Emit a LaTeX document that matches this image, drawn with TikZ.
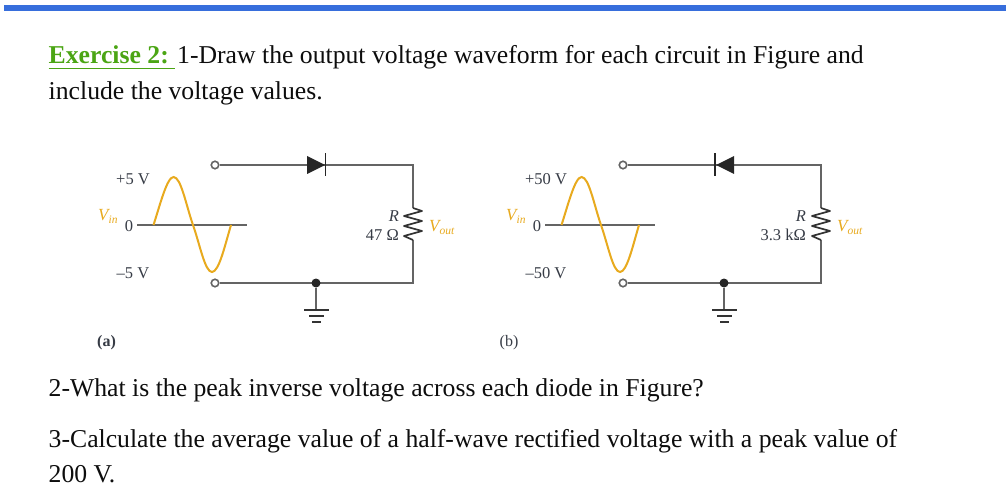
\documentclass[tikz,border=0pt]{standalone}
\usepackage{fontspec}
\setmainfont{Liberation Serif}
\definecolor{wire}{RGB}{100,100,100}
\definecolor{wave}{RGB}{232,170,30}
\definecolor{lab}{RGB}{55,60,70}
\definecolor{topbar}{RGB}{55,110,220}
\definecolor{exgreen}{RGB}{75,165,20}
\tikzset{
  wireline/.style={draw=wire,line width=1.7pt},
  term/.style={circle,draw=wire,fill=white,line width=1.6pt,inner sep=0pt,minimum size=7.5pt},
  junction/.style={circle,fill=black!85,inner sep=0pt,minimum size=9pt},
  waveline/.style={draw=wave,line width=2pt},
  bodytext/.style={anchor=base west,inner sep=0pt,font=\fontsize{25.7}{25.7}\selectfont,text=black!95},
  vlabel/.style={inner sep=0pt,text=lab,font=\fontsize{16.5}{17}\selectfont},
  ylabel/.style={inner sep=0pt,text=wave,font=\itshape\fontsize{17}{17}\selectfont},
  rline/.style={draw=black!80,line width=1.7pt,line join=round}
}
\newcommand{\vsubscr}[1]{V\raisebox{-2.5pt}{\fontsize{11.5}{11.5}\selectfont #1}}
\begin{document}
\begin{tikzpicture}[x=1pt,y=-1pt]
\useasboundingbox (0,0) rectangle (1006,486);
\fill[white] (0,0) rectangle (1006,486);
\fill[topbar] (4,5) rectangle (1006,11);
\node[bodytext,text=exgreen,font=\bfseries\fontsize{25.7}{25.7}\selectfont] (ex) at (48.5,64) {Exercise 2:};
\draw[exgreen,line width=1.7pt] (48.5,68.5) -- (175,68.5);
\node[bodytext] (l1) at (177,64) {1-Draw the output voltage waveform for each circuit in Figure and};
\node[bodytext] (l2) at (48.5,99.5) {include the voltage values.};
\node[bodytext] (l3) at (48.5,396) {2-What is the peak inverse voltage across each diode in Figure?};
\node[bodytext] (l4) at (48.5,447) {3-Calculate the average value of a half-wave rectified voltage with a peak value of};
\node[bodytext] (l5) at (48.5,482) {200 V.};
% panel a
\node[term] (a1) at (215,165) {};
\node[term] (a2) at (215,283) {};
\coordinate (atr) at (413,165);
\coordinate (abr) at (413,283);
\coordinate (ar1) at (413,208);
\coordinate (ar2) at (413,240);
\coordinate (ag) at (316,310);
\coordinate (ab0) at (137,225);
\coordinate (ab1) at (247,225);
\draw[wireline] (ab0) -- (ab1);
\draw[waveline] (153.5,225) .. controls (160,205) and (167,177) .. (173.5,177) .. controls (181,177) and (186,205) .. (193,225) .. controls (200,245) and (205,272) .. (212,272) .. controls (219,272) and (225,245) .. (231,225);
\draw[wireline] (a1) -- (atr) -- (ar1);
\draw[wireline] (ar2) -- (abr) -- (a2);
\draw[rline] (ar1) -- (422,211) -- (404,216) -- (422,221) -- (404,226) -- (422,231) -- (404,236) -- (ar2);
\node[junction] (aj) at (316,283) {};
\draw[wireline] (aj) -- (ag);
\fill[black!85] (307,156) -- (325,165) -- (307,174) -- cycle;
\draw[black!85,line width=1.5pt] (325.5,153.5) -- (325.5,176);
\draw[black!80,line width=1.7pt] (304,310) -- (329,310) (309,316) -- (324,316) (312,322) -- (321,322);
\node[vlabel] (ap) at (133,179) {+5 V};
\node[vlabel] (am) at (133,273) {–5 V};
\node[vlabel] (a0) at (129,226) {0};
\node[ylabel,anchor=base west] (avi) at (98,221) {\vsubscr{in}};
\node[vlabel,font=\itshape\fontsize{16.5}{17}\selectfont] (ar) at (394,216) {R};
\node[vlabel,anchor=east] (av) at (399,235) {47 Ω};
\node[ylabel,anchor=base west] (avo) at (429,232) {\vsubscr{out}};
\node[vlabel,font=\bfseries\fontsize{16}{16}\selectfont] (ca) at (106.5,343) {(a)};
% panel b
\node[term] (b1) at (623,165) {};
\node[term] (b2) at (623,283) {};
\coordinate (btr) at (821,165);
\coordinate (bbr) at (821,283);
\coordinate (br1) at (821,208);
\coordinate (br2) at (821,240);
\coordinate (bg) at (724,310);
\coordinate (bb0) at (545,225);
\coordinate (bb1) at (655,225);
\draw[wireline] (bb0) -- (bb1);
\draw[waveline] (561.5,225) .. controls (568,205) and (575,177) .. (581.5,177) .. controls (589,177) and (594,205) .. (601,225) .. controls (608,245) and (613,272) .. (620,272) .. controls (627,272) and (633,245) .. (639,225);
\draw[wireline] (b1) -- (btr) -- (br1);
\draw[wireline] (br2) -- (bbr) -- (b2);
\draw[rline] (br1) -- (830,211) -- (812,216) -- (830,221) -- (812,226) -- (830,231) -- (812,236) -- (br2);
\node[junction] (bj) at (724,283) {};
\draw[wireline] (bj) -- (bg);
\fill[black!85] (734,156) -- (716,165) -- (734,174) -- cycle;
\draw[black!85,line width=1.5pt] (715,153.5) -- (715,176);
\draw[black!80,line width=1.7pt] (712,310) -- (737,310) (717,316) -- (732,316) (720,322) -- (729,322);
\node[vlabel] (bp) at (546,179) {+50 V};
\node[vlabel] (bm) at (546,273) {–50 V};
\node[vlabel] (b0) at (537,226) {0};
\node[ylabel,anchor=base west] (bvi) at (506,221) {\vsubscr{in}};
\node[vlabel,font=\itshape\fontsize{16.5}{17}\selectfont] (brl) at (801,216) {R};
\node[vlabel,anchor=east] (bv) at (806,235) {3.3 kΩ};
\node[ylabel,anchor=base west] (bvo) at (837,232) {\vsubscr{out}};
\node[vlabel,font=\fontsize{16}{16}\selectfont] (cb) at (509,343) {(b)};
\end{tikzpicture}
\end{document}
